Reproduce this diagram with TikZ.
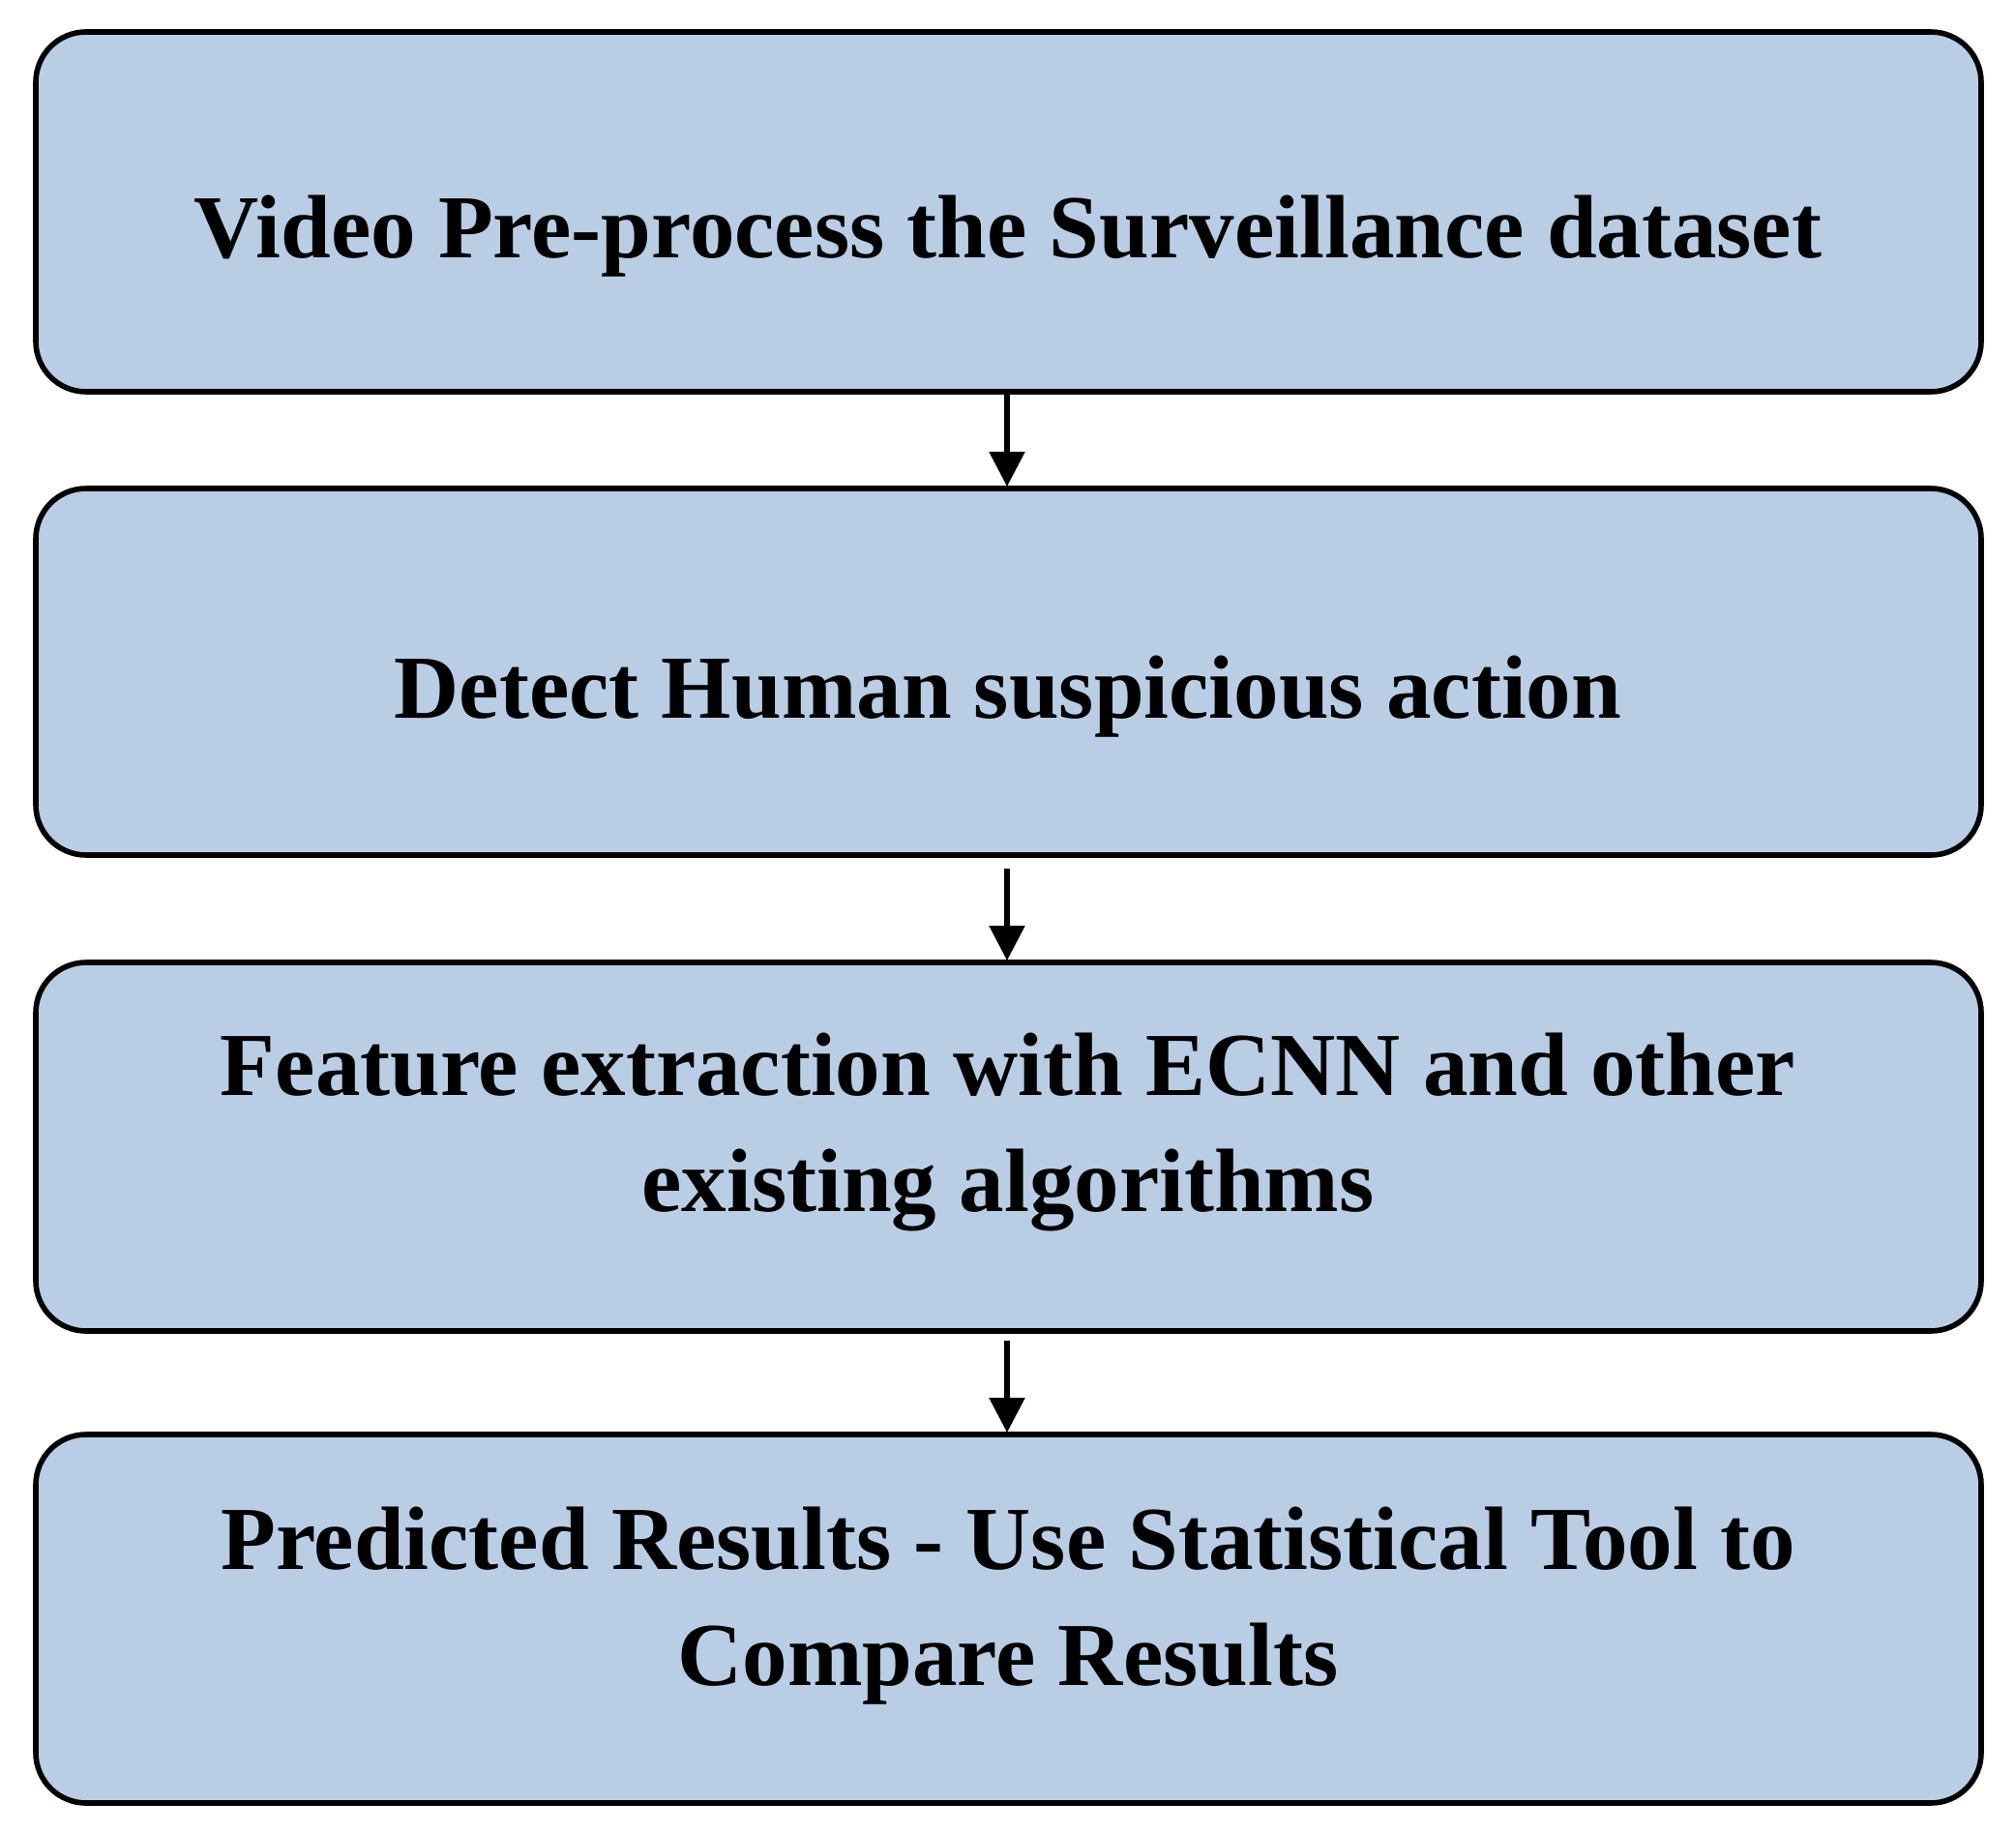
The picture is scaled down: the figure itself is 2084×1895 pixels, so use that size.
\documentclass[tikz,border=0pt]{standalone}
\usepackage{fontspec}
\setmainfont{Liberation Serif}
\usetikzlibrary{arrows.meta}
\definecolor{boxblue}{HTML}{B9CDE5}
\begin{document}
\begin{tikzpicture}[x=0.5pt,y=-0.5pt,
  stepbox/.style={draw=black,line width=2.8pt,fill=boxblue,rounded corners=26pt},
  lbl/.style={font=\fontsize{46.5}{60}\selectfont\bfseries,align=center},
  arr/.style={-{Triangle[length=18pt,width=18pt]},line width=2.8pt}]
\useasboundingbox (0,0) rectangle (2084,1895);
\draw[stepbox] (37,33) rectangle (2048,405);
\draw[stepbox] (37,505) rectangle (2048,884);
\draw[stepbox] (37,995) rectangle (2048,1376);
\draw[stepbox] (37,1483) rectangle (2048,1864);
\node[lbl] (a) at (1042,244) {Video Pre-process the Surveillance dataset};
\node[lbl] (b) at (1042,720) {Detect Human suspicious action};
\node[lbl] (c) at (1042,1170) {Feature extraction with ECNN and other\\existing algorithms};
\node[lbl] (d) at (1042,1660) {Predicted Results - Use Statistical Tool to\\Compare Results};
\coordinate (a1) at (1041,407); \coordinate (a2) at (1041,503);
\coordinate (b1) at (1041,898); \coordinate (b2) at (1041,993);
\coordinate (c1) at (1041,1386); \coordinate (c2) at (1041,1481);
\draw[arr] (a1) -- (a2);
\draw[arr] (b1) -- (b2);
\draw[arr] (c1) -- (c2);
\end{tikzpicture}
\end{document}
